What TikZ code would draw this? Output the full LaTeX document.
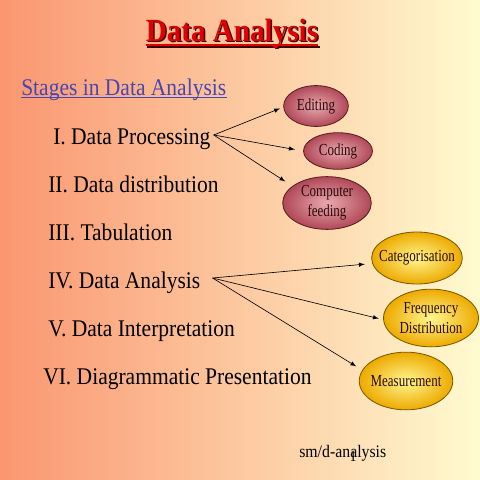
\documentclass[tikz,border=0pt]{standalone}
\usepackage{fontspec}
\setmainfont{Liberation Serif}[FakeStretch=0.9]
\newfontfamily\elipfont{Liberation Serif}[FakeStretch=0.77]
\usetikzlibrary{shapes, arrows, positioning, shadows}
\definecolor{fondoL}{HTML}{FA9670}
\definecolor{fondoR}{HTML}{FFFBD0}
\definecolor{rosaIn}{HTML}{EAAAB0}
\definecolor{rosaOut}{HTML}{B04858}
\definecolor{rosaBorde}{HTML}{5A1E22}
\definecolor{oroIn}{HTML}{FFF690}
\definecolor{oroOut}{HTML}{EDAA00}
\definecolor{oroBorde}{HTML}{7A5A00}
\definecolor{titulo}{HTML}{E00000}
\definecolor{sombra}{HTML}{3C0000}
\definecolor{enlace}{HTML}{4646B4}
\definecolor{tinta}{HTML}{2A0A0A}
\tikzstyle{etapa} = [anchor=base west, inner sep=0pt, font=\fontsize{17}{20}\selectfont]
\tikzstyle{rosa} = [ellipse, draw=rosaBorde, line width=0.6pt, shading=radial, inner color=rosaIn, outer color=rosaOut, inner sep=0pt]
\tikzstyle{oro} = [ellipse, draw=oroBorde, line width=0.6pt, shading=radial, inner color=oroIn, outer color=oroOut, inner sep=0pt]
\tikzstyle{texto} = [font=\elipfont\fontsize{12}{14}\selectfont, align=center, text=tinta]
\tikzstyle{flecha} = [-latex, line width=0.45pt]
\tikzstyle{titular} = [anchor=base, inner sep=0pt, font=\bfseries\fontsize{23}{26}\selectfont]

\begin{document}
\begin{tikzpicture}[x=0.025cm, y=-0.025cm]
	\shade[left color=fondoL, right color=fondoR] (0,0) rectangle (480,480);
	\useasboundingbox (0,0) rectangle (480,480);
	\node[titular, text=sombra] (titS) at (233.5,42.5) {Data Analysis};
	\draw[sombra, line width=1.6pt] ([yshift=-3pt]titS.base west) -- ([yshift=-3pt]titS.base east);
	\node[titular, text=titulo] (tit) at (232,41) {Data Analysis};
	\draw[titulo, line width=1.6pt] ([yshift=-3pt]tit.base west) -- ([yshift=-3pt]tit.base east);
	\node[etapa, text=enlace] (etapas) at (21,95) {Stages in Data Analysis};
	\draw[enlace, line width=0.8pt] ([yshift=-1.8pt]etapas.base west) -- ([yshift=-1.8pt]etapas.base east);
	\node[etapa] (dp) at (53,144) {I. Data Processing};
	\node[etapa] (dd) at (48,192) {II. Data distribution};
	\node[etapa] (tab) at (48,240) {III. Tabulation};
	\node[etapa] (da) at (48,288) {IV. Data Analysis};
	\node[etapa] (di) at (48,336) {V. Data Interpretation};
	\node[etapa] (dpr) at (43,384) {VI. Diagrammatic Presentation};
	\node[rosa, minimum width=46pt, minimum height=29pt, label={[texto]center:Editing}] (edit) at (316,106) {};
	\node[rosa, minimum width=49pt, minimum height=26pt, label={[texto]center:Coding}] (cod) at (338,151) {};
	\node[rosa, minimum width=63pt, minimum height=37.5pt, label={[texto]center:Computer\\feeding}] (comp) at (327,203) {};
	\node[oro, minimum width=64.5pt, minimum height=37pt, label={[texto]center:Categorisation}] (cat) at (417,258) {};
	\node[oro, minimum width=67.5pt, minimum height=41pt, label={[texto]center:Frequency\\Distribution}] (frec) at (431,318) {};
	\node[oro, minimum width=66.5pt, minimum height=41pt, label={[texto]center:Measurement}] (med) at (406,381) {};
	\coordinate (dpOut) at ([shift={(3,-9)}]dp.base east);
	\coordinate (daOut) at ([shift={(12,-10)}]da.base east);
	\draw[flecha, shorten >=2.5pt] (dpOut) -- (edit.182);
	\draw[flecha, shorten >=6pt] (dpOut) -- (cod.west);
	\draw[flecha, shorten >=6pt] (dpOut) -- (comp.154);
	\draw[flecha, shorten >=5.3pt] (daOut) -- (cat.187);
	\draw[flecha, shorten >=3.2pt] (daOut) -- (frec.182);
	\draw[flecha, shorten >=5pt] (daOut) -- (med.166);
	\node[anchor=base west, inner sep=0pt, font=\fontsize{12.5}{14}\selectfont] (pie) at (299,457) {sm/d-analysis};
	\node[anchor=base, inner sep=0pt, font=\fontsize{11}{12}\selectfont] (num) at (353,461) {1};
\end{tikzpicture}
\end{document}
